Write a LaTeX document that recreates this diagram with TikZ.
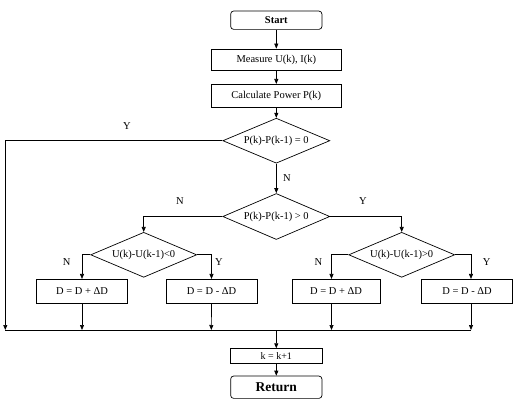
\documentclass[tikz,border=0pt]{standalone}
\usepackage{fontspec}
\setmainfont{Liberation Serif}
\usetikzlibrary{shapes.geometric,arrows.meta}
\begin{document}
\begin{tikzpicture}[x=1pt,y=-1pt,
  every node/.style={font=\fontsize{10.5}{12}\selectfont},
  proc/.style={draw,line width=0.7pt,rectangle,inner sep=0pt,minimum width=#1},
  proc/.default=91pt,
  term/.style={draw,line width=0.7pt,rectangle,rounded corners=3pt,inner sep=0pt,minimum width=91.3pt},
  dec/.style={draw,line width=0.7pt,diamond,aspect=2.4,inner sep=0pt,minimum width=106pt,minimum height=45pt},
  lbl/.style={inner sep=0pt},
  conn/.style={line width=0.7pt},
  arr/.style={line width=0.7pt,-{Triangle[length=5pt,width=4pt]}}]
\useasboundingbox (0,0) rectangle (514,400);
\node[term,minimum height=18.3pt,font=\fontsize{10.5}{12}\selectfont\bfseries] (start) at (276.3,20.2) {Start};
\node[proc=130pt,minimum height=21.7pt] (meas) at (276.3,59.8) {Measure U(k), I(k)};
\node[proc=130pt,minimum height=23pt] (calc) at (276.3,95.8) {Calculate Power P(k)};
\node[dec,minimum width=107pt] (d1) at (276.3,140.7) {P(k)-P(k-1) = 0};
\node[dec,minimum width=107pt,minimum height=46pt] (d2) at (276.3,216.5) {P(k)-P(k-1) > 0};
\node[dec] (d3) at (143.7,254.8) {U(k)-U(k-1)<0};
\node[dec] (d4) at (401.7,254.8) {U(k)-U(k-1)>0};
\node[proc,minimum height=24pt] (b1) at (82,291.3) {D = D + ΔD};
\node[proc,minimum height=24pt] (b2) at (211.5,291.3) {D = D - ΔD};
\node[proc=88pt,minimum height=24pt] (b3) at (336,291.3) {D = D + ΔD};
\node[proc,minimum height=24pt] (b4) at (467,291.3) {D = D - ΔD};
\node[proc=91.3pt,minimum height=14.7pt,font=\fontsize{10}{12}\selectfont] (kk) at (276.3,356) {k = k+1};
\node[term,minimum height=22.3pt,font=\fontsize{13.5}{15}\selectfont\bfseries] (ret) at (276.3,387.2) {Return};
% columns and bus
\coordinate (c1) at (82,330);
\coordinate (c2) at (211.3,330);
\coordinate (c3) at (331.5,330);
\coordinate (c4) at (471,330);
\coordinate (c0) at (5.3,330);
\coordinate (cm) at (276.3,330);
% connectors
\draw[arr] (start) -- (meas);
\draw[arr] (meas) -- (calc);
\draw[arr] (calc) -- (d1);
\draw[arr] (d1) -- (d2);
\draw[arr] (d1.west) -| (c0);
\draw[arr] (d2.west) -| (d3.north);
\draw[arr] (d2.east) -| (d4.north);
\draw[arr] (d3.west) -| (b1.north);
\draw[arr] (d3.east) -| (b2.north);
\draw[arr] (d4.west) -| (b3.north -| c3);
\draw[arr] (d4.east) -| (b4.north -| c4);
\draw[arr] (b1.south) -- (c1);
\draw[arr] (b2.south) -- (c2);
\draw[arr] (b3.south -| c3) -- (c3);
\draw[arr] (b4.south -| c4) -- (c4);
\draw[conn] (c0) -- (c4);
\draw[arr] (cm) -- (kk);
\draw[arr] (kk) -- (ret);
% labels
\node[lbl] (ly1) at (127,125.7) {Y};
\node[lbl] (ln1) at (287,178) {N};
\node[lbl] (ln2) at (180,201) {N};
\node[lbl] (ly2) at (363,201) {Y};
\node[lbl] (ln3) at (66.7,261.7) {N};
\node[lbl] (ly3) at (219,261.7) {Y};
\node[lbl] (ln4) at (318.3,261.7) {N};
\node[lbl] (ly4) at (486.7,261.7) {Y};
\end{tikzpicture}
\end{document}
